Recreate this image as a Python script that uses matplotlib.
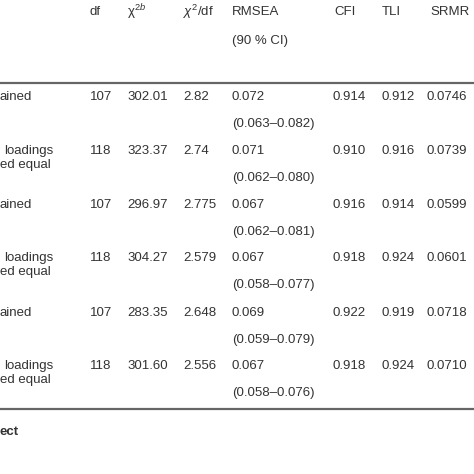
import matplotlib.pyplot as plt

plt.rcParams["font.family"] = ["Liberation Sans", "DejaVu Sans"]
plt.rcParams["mathtext.fontset"] = "custom"
plt.rcParams["mathtext.it"] = "Liberation Sans:italic"
plt.rcParams["mathtext.rm"] = "Liberation Sans"

labels = [["ained"], ["loadings", "ed equal"], ["ained"], ["loadings", "ed equal"],
          ["ained"], ["loadings", "ed equal"]]
df = ["107", "118", "107", "118", "107", "118"]
chi2 = ["302.01", "323.37", "296.97", "304.27", "283.35", "301.60"]
chi2_df = ["2.82", "2.74", "2.775", "2.579", "2.648", "2.556"]
rmsea = ["0.072", "0.071", "0.067", "0.067", "0.069", "0.067"]
ci = ["(0.063–0.082)", "(0.062–0.080)", "(0.062–0.081)", "(0.058–0.077)",
      "(0.059–0.079)", "(0.058–0.076)"]
cfi = ["0.914", "0.910", "0.916", "0.918", "0.922", "0.918"]
tli = ["0.912", "0.916", "0.914", "0.924", "0.919", "0.924"]
srmr = ["0.0746", "0.0739", "0.0599", "0.0601", "0.0718", "0.0710"]

row_y = [97, 151, 205, 258, 313, 366]
col_x = {"df": 90, "chi2": 127, "chi2df": 183, "rmsea": 232, "cfi": 333, "tli": 382, "srmr": 427}

fig = plt.figure(figsize=(4.74, 4.74), dpi=100)
ax = fig.add_axes([0, 0, 1, 1])
ax.set_xlim(0, 474)
ax.set_ylim(474, 0)
ax.axis("off")

c = "#333333"
fs = 9.5
kw = dict(fontsize=fs, color=c, va="center", ha="left")

# header
ax.text(col_x["df"], 12, "df", **kw)
ax.text(col_x["chi2"], 12, r"$\mathrm{\chi}^{2b}$", **kw)
ax.text(col_x["chi2df"], 12, r"$\chi^{2}$/df", **kw)
ax.text(col_x["rmsea"], 12, "RMSEA", **kw)
ax.text(col_x["rmsea"], 41, "(90 % CI)", **kw)
ax.text(col_x["cfi"] + 1, 12, "CFI", **kw)
ax.text(col_x["tli"], 12, "TLI", **kw)
ax.text(col_x["srmr"] + 3, 12, "SRMR", **kw)

ax.plot([0, 474], [83, 83], color="#666666", lw=1.6)
ax.plot([0, 474], [409, 409], color="#666666", lw=1.6)

for i, y in enumerate(row_y):
    if len(labels[i]) == 1:
        ax.text(0, y, labels[i][0], **kw)
    else:
        ax.text(4, y, labels[i][0], **kw)
        ax.text(0, y + 14, labels[i][1], **kw)
    ax.text(col_x["df"], y, df[i], **kw)
    ax.text(col_x["chi2"], y, chi2[i], **kw)
    ax.text(col_x["chi2df"], y, chi2_df[i], **kw)
    ax.text(col_x["rmsea"], y, rmsea[i], **kw)
    ax.text(col_x["rmsea"], y + 27, ci[i], **kw)
    ax.text(col_x["cfi"], y, cfi[i], **kw)
    ax.text(col_x["tli"], y, tli[i], **kw)
    ax.text(col_x["srmr"], y, srmr[i], **kw)

ax.text(0, 432, "ect", fontsize=fs, color=c, va="center", ha="left", fontweight="bold")

fig.savefig("out.png", dpi=100, facecolor="white")
